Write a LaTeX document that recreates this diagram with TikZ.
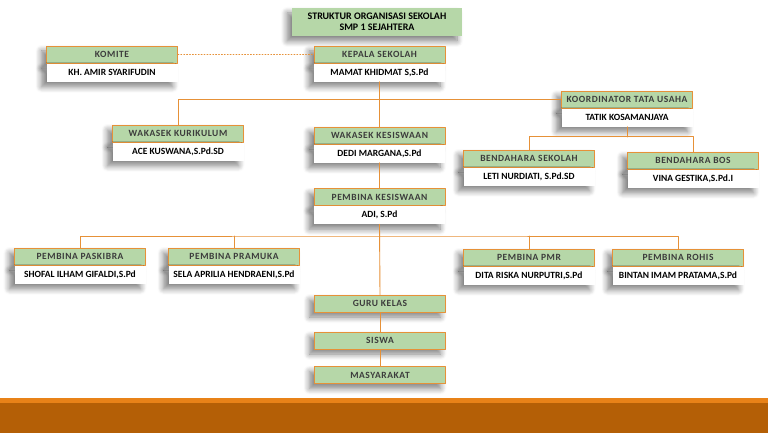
\documentclass[tikz,border=0pt]{standalone}
\usepackage{fontspec}
\setmainfont{Carlito}
\usetikzlibrary{positioning,shadows.blur}
\definecolor{hijau}{RGB}{182,215,168}
\definecolor{oranye}{RGB}{230,145,56}
\definecolor{coklat}{RGB}{180,95,6}
\definecolor{jingga}{RGB}{232,130,24}
\definecolor{abu}{RGB}{60,60,60}
\tikzset
{
  bayang/.style={blur shadow={shadow xshift=-5pt,shadow yshift=-5pt,shadow blur radius=6pt,shadow blur steps=8,shadow opacity=50}},
  judul/.style={fill=hijau,minimum width=170pt,minimum height=28pt,inner sep=0pt,align=center,font=\bfseries\fontsize{10}{11}\selectfont,bayang},
  jabatan/.style={draw=oranye,line width=0.9pt,fill=hijau,minimum width=131pt,minimum height=17pt,inner sep=0pt,text=abu,font=\bfseries\fontsize{9.5}{10}\selectfont\addfontfeature{LetterSpace=6},bayang},
  pejabat/.style={fill=white,minimum width=131pt,minimum height=18pt,inner sep=0pt,font=\bfseries\fontsize{9.5}{10}\selectfont,bayang},
  garis/.style={draw=oranye,line width=0.9pt}
}
\begin{document}
\begin{tikzpicture}[x=1pt,y=-1pt,line cap=round,line join=round]
    \useasboundingbox (0,0) rectangle (768,433);
    % pita bawah
    \fill[coklat] (0,398) rectangle (768,433);
    \fill[jingga] (0,398) rectangle (768,403);
    % judul
    \node[judul] (J) at (377,22) {STRUKTUR ORGANISASI SEKOLAH\\SMP 1 SEJAHTERA};
    % pimpinan
    \node[jabatan] (KOM) at (112,54.5) {KOMITE};
    \node[pejabat,below=0pt of KOM] (KOMn) {KH. AMIR SYARIFUDIN};
    \node[jabatan] (KS) at (379.5,54.5) {KEPALA SEKOLAH};
    \node[pejabat,below=0pt of KS] (KSn) {MAMAT KHIDMAT S,S.Pd};
    % wakasek dan tata usaha
    \node[jabatan] (WKk) at (178,133.5) {WAKASEK KURIKULUM};
    \node[pejabat,below=0pt of WKk] (WKkn) {ACE KUSWANA,S.Pd.SD};
    \node[jabatan] (WKs) at (379.5,135.5) {WAKASEK KESISWAAN};
    \node[pejabat,below=0pt of WKs] (WKsn) {DEDI MARGANA,S.Pd};
    \node[jabatan] (KTU) at (627,99.5) {KOORDINATOR TATA USAHA};
    \node[pejabat,below=0pt of KTU] (KTUn) {TATIK KOSAMANJAYA};
    % bendahara
    \node[jabatan] (BS) at (529,158.5) {BENDAHARA SEKOLAH};
    \node[pejabat,below=0pt of BS] (BSn) {LETI NURDIATI, S.Pd.SD};
    \node[jabatan] (BB) at (693,160.5) {BENDAHARA BOS};
    \node[pejabat,below=0pt of BB] (BBn) {VINA GESTIKA,S.Pd.I};
    % pembina
    \node[jabatan] (PK) at (379.5,197) {PEMBINA KESISWAAN};
    \node[pejabat,below=0pt of PK] (PKn) {ADI, S.Pd};
    \node[jabatan] (PPk) at (80,256.5) {PEMBINA PASKIBRA};
    \node[pejabat,below=0pt of PPk] (PPkn) {SHOFAL ILHAM GIFALDI,S.Pd};
    \node[jabatan] (PPr) at (234,256.5) {PEMBINA PRAMUKA};
    \node[pejabat,below=0pt of PPr] (PPrn) {SELA APRILIA HENDRAENI,S.Pd};
    \node[jabatan] (PMR) at (529,257.5) {PEMBINA PMR};
    \node[pejabat,below=0pt of PMR] (PMRn) {DITA RISKA NURPUTRI,S.Pd};
    \node[jabatan] (PRh) at (678,257.5) {PEMBINA ROHIS};
    \node[pejabat,below=0pt of PRh] (PRhn) {BINTAN IMAM PRATAMA,S.Pd};
    % guru, siswa, masyarakat
    \node[jabatan] (GK) at (380,303.5) {GURU KELAS};
    \node[jabatan] (SW) at (380,340.5) {SISWA};
    \node[jabatan] (MS) at (380,375) {MASYARAKAT};
    % garis
    \draw[garis,dotted] (KOM.east) -- (KS.west);
    \draw[garis] (KSn.south) -- (WKs.north);
    \draw[garis] (WKk.north) |- (KTU.west);
    \draw[garis] (KTUn.south) -- ++(0,10) coordinate (b1);
    \draw[garis] (BS.north) |- (b1) -| (BB.north);
    \draw[garis] (WKsn.south) -- (PK.north);
    \draw[garis] (PKn.south) -- (GK.north);
    \coordinate (b2) at (380,236);
    \draw[garis] (PPk.north) |- (b2) -| (PRh.north);
    \foreach\i in{PPr,PMR}
      \draw[garis] (\i.north) -- (\i.north |- b2);
    \draw[garis] (GK.south) -- (SW.north);
    \draw[garis] (SW.south) -- (MS.north);
\end{tikzpicture}
\end{document}
